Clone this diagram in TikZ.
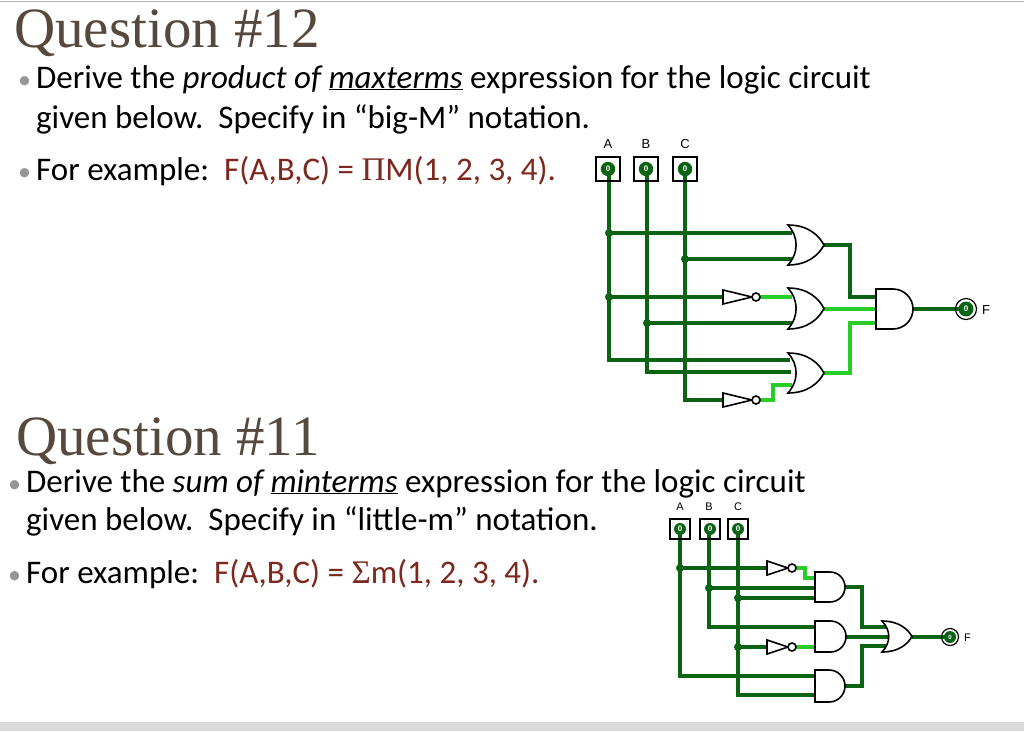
\documentclass[tikz,border=0pt]{standalone}
\usepackage{fontspec}
\setmainfont{Carlito}
\newfontfamily\titlefont{Liberation Serif}
\newfontfamily\lblfont{Liberation Sans}
\definecolor{wire}{RGB}{10,100,20}
\definecolor{hot}{RGB}{40,205,40}
\definecolor{ttl}{RGB}{85,72,60}
\definecolor{exred}{RGB}{125,40,30}
\definecolor{bul}{RGB}{150,150,150}
\newcommand\myor[4]{% L R T B
 \draw[gate] (#1,#3) .. controls ({#1+0.55*(#2-#1)},#3) and ({#2-0.15*(#2-#1)},{#3+0.25*(#4-#3)}) .. (#2,{0.5*(#3+#4)})
  .. controls ({#2-0.15*(#2-#1)},{#4-0.25*(#4-#3)}) and ({#1+0.55*(#2-#1)},#4) .. (#1,#4)
  .. controls ({#1+0.3*(#2-#1)},{#4-0.3*(#4-#3)}) and ({#1+0.3*(#2-#1)},{#3+0.3*(#4-#3)}) .. (#1,#3) -- cycle;}
\newcommand\myand[4]{%
 \draw[gate] ({#2-0.5*(#4-#3)},#3) -- (#1,#3) -- (#1,#4) -- ({#2-0.5*(#4-#3)},#4) arc[start angle=90,end angle=-90,radius={0.5*(#4-#3)}];}
\newcommand\mynot[3]{% L R y
 \draw[gate] (#1,{#3-7}) -- (#1,{#3+7}) -- ({#2-4},#3) -- cycle; \draw[gate] (#2,#3) circle[radius=4];}
\newcommand\myin[4]{% name x y size
 \node[draw=black,line width=2pt,minimum size=#4pt,inner sep=0pt] (#1) at (#2,#3) {};
 \fill[wire] (#2,#3) circle[radius={0.3*#4}];
 \node[text=white,font=\lblfont\fontsize{8}{8}\selectfont\bfseries,inner sep=0pt] at (#2,#3) {0};}
\tikzset{gate/.style={draw=black,line width=1.6pt,fill=white},
 w/.style={wire,line width=3.4pt},
 h/.style={hot,line width=3.4pt},
 dot/.style={circle,fill=wire,inner sep=0pt,minimum size=8pt},
 lbl/.style={font=\lblfont\fontsize{13}{13}\selectfont,inner sep=0pt},
 txt/.style={anchor=base west,inner sep=0pt,font=\fontsize{33}{33}\selectfont},
 bl/.style={anchor=base west,inner sep=0pt,text=bul,font=\fontsize{26}{26}\selectfont},
 tt/.style={anchor=base west,inner sep=0pt,text=ttl,font=\titlefont\fontsize{57}{57}\selectfont}}
\begin{document}
\begin{tikzpicture}[x=1pt,y=-1pt]
\useasboundingbox (0,0) rectangle (1024,731);
\fill[white] (0,0) rectangle (1024,731);
\fill[black!15] (0,722) rectangle (1024,731);
\draw[black!30] (0,1) -- (1024,1);
% ---------- texts
\node[tt] (t12) at (14,47) {Question \#12};
\node[bl] (b1) at (18,88) {•};
\node[txt] (l1) at (36,88) {Derive the \textit{product of \underline{maxterms}} expression for the logic circuit};
\node[txt] (l2) at (36,128) {given below.\ \ Specify in “big-M” notation.};
\node[bl] (b2) at (18,180) {•};
\node[txt] (l3) at (36,180) {For example:\ \ \textcolor{exred}{F(A,B,C) = {\titlefont Π}M(1, 2, 3, 4).}};
\node[tt] (t11) at (16,455) {Question \#11};
\node[bl] (b3) at (8,492) {•};
\node[txt] (m1) at (26,492) {Derive the \textit{sum of \underline{minterms}} expression for the logic circuit};
\node[txt] (m2) at (26,530) {given below.\ \ Specify in “little-m” notation.};
\node[bl] (b4) at (8,583) {•};
\node[txt] (m3) at (26,583) {For example:\ \ \textcolor{exred}{F(A,B,C) = {\titlefont Σ}m(1, 2, 3, 4).}};
% ---------- circuit 1
\draw[w] (609,169) -- (609,360) -- (790,360);
\draw[w] (647,169) -- (647,372) -- (791,372);
\draw[w] (685,169) -- (685,400) -- (723,400);
\draw[w] (609,233) -- (792,233);
\draw[w] (685,259) -- (792,259);
\draw[w] (609,297) -- (723,297);
\draw[w] (647,323) -- (792,323);
\draw[h] (760,297) -- (792,297);
\draw[h] (760,400) -- (773,400) -- (773,385) -- (792,385);
\draw[w] (824,245) -- (850,245) -- (850,297) -- (876,297);
\draw[h] (824,309) -- (876,309);
\draw[h] (824,373) -- (850,373) -- (850,323) -- (876,323);
\draw[w] (913,309) -- (960,309);
\node[dot] (d1) at (609,233) {}; \node[dot] (d2) at (685,259) {};
\node[dot] (d3) at (609,297) {}; \node[dot] (d4) at (647,323) {};
\myor{788}{824}{225}{265}
\myor{788}{824}{288}{329}
\myor{788}{824}{353}{393}
\myand{876}{913}{289}{329}
\mynot{723}{756}{297}
\mynot{723}{756}{400}
\myin{A1}{608}{169}{24}\myin{B1}{646}{169}{24}\myin{C1}{685}{169}{24}
\node[lbl] (la1) at (608,144) {A}; \node[lbl] (lb1) at (646,144) {B}; \node[lbl] (lc1) at (685,144) {C};
\draw[black,line width=1.2pt] (966,309) circle[radius=10.5];
\fill[wire] (966,309) circle[radius=7.5];
\node[text=white,font=\lblfont\fontsize{8}{8}\selectfont\bfseries,inner sep=0pt] (F1) at (966,309) {0};
\node[lbl,anchor=west] (lf1) at (982,310) {F};
% ---------- circuit 2
\draw[w] (680,529) -- (680,676) -- (817,676);
\draw[w] (709,529) -- (709,627) -- (817,627);
\draw[w] (738,529) -- (738,695) -- (817,695);
\draw[w] (680,568) -- (767,568);
\draw[w] (709,588) -- (817,588);
\draw[w] (738,598) -- (817,598);
\draw[w] (738,647) -- (767,647);
\draw[h] (795,568) -- (805,568) -- (805,578) -- (817,578);
\draw[h] (795,647) -- (817,647);
\draw[w] (843,587) -- (862,587) -- (862,627) -- (886,627);
\draw[w] (846,637) -- (888,637);
\draw[w] (843,686) -- (862,686) -- (862,646) -- (886,646);
\draw[w] (912,637) -- (945,637);
\node[dot] (e1) at (680,568) {}; \node[dot] (e2) at (709,588) {};
\node[dot] (e3) at (738,598) {}; \node[dot] (e4) at (738,647) {};
\myand{815}{845}{572}{602}
\myand{815}{846}{621}{652}
\myand{815}{845}{670}{702}
\myor{882}{912}{621}{652}
\mynot{767}{792}{568}
\mynot{767}{792}{647}
\myin{A2}{680}{529}{20}\myin{B2}{710}{529}{20}\myin{C2}{738}{529}{20}
\node[lbl,font=\lblfont\fontsize{11}{11}\selectfont] (la2) at (680,507) {A};
\node[lbl,font=\lblfont\fontsize{11}{11}\selectfont] (lb2) at (709,507) {B};
\node[lbl,font=\lblfont\fontsize{11}{11}\selectfont] (lc2) at (738,507) {C};
\draw[black,line width=1.2pt] (950,637) circle[radius=8.5];
\fill[wire] (950,637) circle[radius=6];
\node[text=white,font=\lblfont\fontsize{6}{6}\selectfont\bfseries,inner sep=0pt] (F2) at (950,637) {0};
\node[lbl,font=\lblfont\fontsize{11}{11}\selectfont,anchor=west] (lf2) at (964,638) {F};
\end{tikzpicture}
\end{document}
